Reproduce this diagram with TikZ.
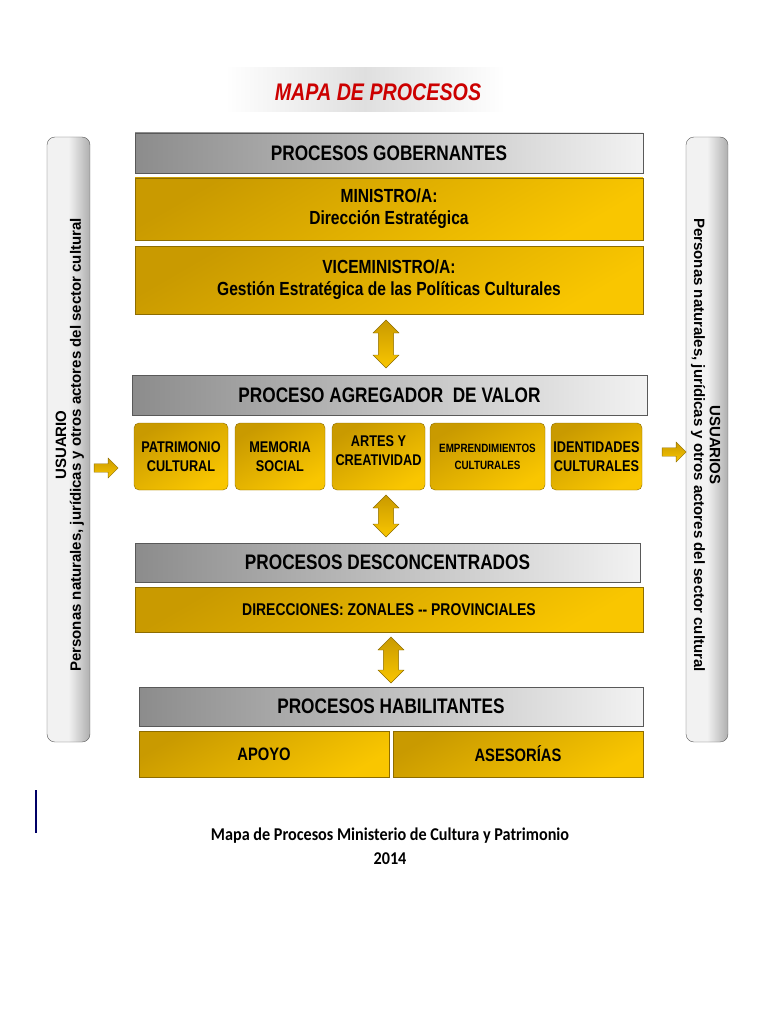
\documentclass[tikz,border=0pt]{standalone}
\usepackage{fontspec}
\setmainfont{Liberation Sans}
\newfontfamily\narrow[FakeStretch=0.82]{Liberation Sans}
\newfontfamily\carlitofont[FakeStretch=0.9]{Carlito}
\usetikzlibrary{shapes.arrows}
\definecolor{ydark}{HTML}{C99A00}
\definecolor{ylight}{HTML}{F9C600}
\definecolor{gdark}{HTML}{8C8C8C}
\definecolor{glight}{HTML}{F2F2F2}
\begin{document}
\begin{tikzpicture}[x=1pt,y=-1pt,
 gbar/.style={draw=gray!70!black,left color=gdark,right color=glight,font=\narrow\bfseries\fontsize{21}{23}\selectfont,inner sep=0pt},
 ybox/.style={draw=ydark!70!black,top color=ydark,bottom color=ylight,shading angle=30,font=\narrow\bfseries\fontsize{19}{22}\selectfont,align=center,inner sep=0pt},
 sbox/.style={ybox,rounded corners=5pt,font=\narrow\bfseries\fontsize{15.5}{19}\selectfont},
 darr/.style={double arrow,draw=ydark!70!black,top color=ydark,bottom color=ylight,minimum width=26pt,double arrow head extend=3pt,inner sep=4pt,rotate=90},
 sarr/.style={single arrow,draw=ydark!70!black,top color=ydark,bottom color=ylight,minimum width=20pt,single arrow head extend=3pt,inner sep=2pt},
 side/.style={draw=gray!70!black,rounded corners=8pt,left color=glight,right color=gdark!70,middle color=glight},
 rot/.style={font=\bfseries\fontsize{15}{17}\selectfont}]
\useasboundingbox (0,0) rectangle (768,1024);
% title
\node[left color=white,right color=white,middle color=gray!25,minimum width=280pt,minimum height=44pt] (tbg) at (365,90) {};
\node[font=\narrow\bfseries\itshape\fontsize{24}{26}\selectfont,text=red!80!black] (title) at (378,92) {MAPA DE PROCESOS};
% side panels
\node[side,minimum width=43pt,minimum height=605pt] (lp) at (68.5,439.5) {};
\node[side,minimum width=42pt,minimum height=605pt] (rp) at (707,439.5) {};
\node[rot,rotate=90] (lu) at (61,445) {USUARIO};
\node[rot,rotate=90] (lt) at (77,445) {Personas naturales, jurídicas y otros actores del sector cultural};
\node[rot,rotate=-90] (ru) at (715,445) {USUARIOS};
\node[rot,rotate=-90] (rt) at (698,445) {Personas naturales, jurídicas y otros actores del sector cultural};
\node[sarr,minimum height=24pt] (la) at (104,468) {};
\node[sarr,minimum height=24pt] (ra) at (672,452) {};
% bars
\node[gbar,minimum width=508pt,minimum height=40pt] (gob) at (389,153) {PROCESOS GOBERNANTES};
\node[ybox,minimum width=508pt,minimum height=62pt] (min) at (389,209) {MINISTRO/A:\\Dirección Estratégica};
\node[ybox,minimum width=508pt,minimum height=68pt] (vice) at (389,280) {VICEMINISTRO/A:\\Gestión Estratégica de las Políticas Culturales};
\node[darr,minimum height=48pt] (a1) at (386,344) {};
\node[gbar,minimum width=515pt,minimum height=40pt] (agr) at (389.5,395) {PROCESO AGREGADOR \ DE VALOR};
\node[sbox,minimum width=94pt,minimum height=67pt] (b1) at (181,456.5) {PATRIMONIO\\CULTURAL};
\node[sbox,minimum width=90pt,minimum height=67pt] (b2) at (280,456.5) {MEMORIA\\SOCIAL};
\node[sbox,minimum width=93pt,minimum height=67pt] (b3) at (378.5,456.5) {};
\node[font=\narrow\bfseries\fontsize{15.5}{19}\selectfont,align=center] (b3t) at (378.5,451) {ARTES Y\\CREATIVIDAD};
\node[sbox,minimum width=115pt,minimum height=67pt,font=\narrow\bfseries\fontsize{12}{17}\selectfont] (b4) at (487.5,456.5) {EMPRENDIMIENTOS\\CULTURALES};
\node[sbox,minimum width=91pt,minimum height=67pt] (b5) at (596.5,456.5) {IDENTIDADES\\CULTURALES};
\node[darr,minimum height=42pt] (a2) at (386,516) {};
\node[gbar,minimum width=505pt,minimum height=39pt] (des) at (387.5,562.5) {PROCESOS DESCONCENTRADOS};
\node[ybox,minimum width=508pt,minimum height=45pt,font=\narrow\bfseries\fontsize{17}{19}\selectfont] (dir) at (389,609.5) {DIRECCIONES: ZONALES -- PROVINCIALES};
\node[darr,minimum height=46pt] (a3) at (391,660) {};
\node[gbar,minimum width=504pt,minimum height=39pt] (hab) at (391,706.5) {PROCESOS HABILITANTES};
\node[ybox,minimum width=250pt,minimum height=46pt,font=\narrow\bfseries\fontsize{18}{20}\selectfont] (apo) at (264,754) {APOYO};
\node[ybox,minimum width=250pt,minimum height=46pt,font=\narrow\bfseries\fontsize{18}{20}\selectfont] (ase) at (518,754) {ASESORÍAS};
% caption
\draw[draw=blue!40!black,line width=1.2pt] (36,790) coordinate (c1) -- (36,833) coordinate (c2);
\node[font=\carlitofont\bfseries\fontsize{18}{20}\selectfont,align=center] (cap) at (390,846) {Mapa de Procesos Ministerio de Cultura y Patrimonio\\[4pt]2014};
\end{tikzpicture}
\end{document}
